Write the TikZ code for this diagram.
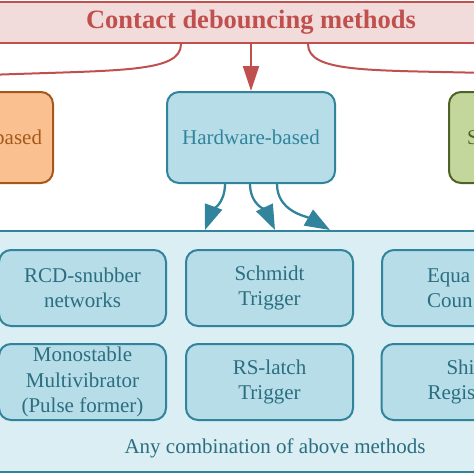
\documentclass[tikz,border=0pt]{standalone}
\usepackage{fontspec}
\setmainfont{Liberation Serif}
\usetikzlibrary{positioning,arrows.meta}
\definecolor{redline}{HTML}{C0504D}
\definecolor{redfill}{HTML}{F2DCDB}
\definecolor{blueline}{HTML}{31849B}
\definecolor{bluefill}{HTML}{B7DDE8}
\definecolor{bluepale}{HTML}{DAEEF3}
\definecolor{bluetext}{HTML}{2A6E80}
\definecolor{orline}{HTML}{A5581C}
\definecolor{orfill}{HTML}{FAC090}
\definecolor{grline}{HTML}{4F6228}
\definecolor{grfill}{HTML}{C3D69B}
\begin{document}
\begin{tikzpicture}[x=1pt,y=-1pt,node distance=187pt,on grid,
	txt/.style={font=\fontsize{21}{25.5}\selectfont},
	method/.style={txt,draw=blueline,fill=bluefill,text=bluetext,line width=2pt,rounded corners=12pt,minimum width=167pt,minimum height=76pt,inner ysep=2pt,align=center},
	kind/.style={txt,draw,line width=2pt,rounded corners=12pt,minimum width=168pt,minimum height=91pt,align=center},
	redarrow/.style={draw=redline,line width=2pt},
	bluearrow/.style={draw=blueline,line width=2.3pt,-{Triangle[length=25pt,width=18pt]}}]
		\useasboundingbox (0,0) rectangle (474,474);
		\clip (0,0) rectangle (474,474);
		\node[draw=redline,fill=redfill,line width=2pt,minimum width=540pt,minimum height=41pt,text=redline,font=\fontsize{26.5}{31}\selectfont\bfseries] (root) at (251,22.5) {Contact debouncing methods};
		\node[kind,draw=blueline,fill=bluefill,text=blueline] (hw) at (251,137.5) {Hardware-based};
		\node[kind,draw=orline,fill=orfill,text=orline,text width=146pt,inner xsep=11pt,align=right] (sw) [left=282pt of hw] {based};
		\node[kind,draw=grline,fill=grfill,text=grline,text width=132pt,inner xsep=18pt,align=left] (gr) [right=282pt of hw] {S};

		\coordinate (swIn) at (-12,75);
		\coordinate (grIn) at (486,73);
		\draw[redarrow] ([xshift=-70pt]root.south) .. controls +(0,29) and +(132,-5) .. (swIn);
		\draw[redarrow] ([xshift=57pt]root.south) .. controls +(0,29) and +(-116,-3) .. (grIn);
		\draw[redarrow,-{Triangle[length=25pt,width=16pt]}] (root) -- (hw);

		\node[draw=blueline,fill=bluepale,line width=2pt,minimum width=540pt,minimum height=241pt] (panel) at (237,351.5) {};
		\node[method] (rcd) at (82.5,288) {RCD-snubber\\networks};
		\node[method] (smt) [right=of rcd] {Schmidt\\Trigger};
		\node[method,text width=77pt,inner xsep=45pt,align=left] (eqc) [right=196pt of smt] {Equa\\Coun};
		\node[method] (mono) [below=94pt of rcd] {Monostable\\Multivibrator\\(Pulse former)};
		\node[method] (rsl) [below=94pt of smt] {RS-latch\\Trigger};
		\node[method,text width=76pt,inner xsep=46pt,align=left] (shr) [below=94pt of eqc] {\hspace*{19pt}Shi\\Regis};
		\node[txt,text=bluetext] (any) at (275,448) {Any combination of above methods};

		\draw[bluearrow] ([xshift=-26pt]hw.south) to[out=-90,in=70] ([xshift=-46pt]hw.south |- panel.north);
		\draw[bluearrow] ([xshift=-1pt]hw.south) to[out=-90,in=115] ([xshift=24pt]hw.south |- panel.north);
		\draw[bluearrow] ([xshift=26pt]hw.south) to[out=-90,in=150] ([xshift=79pt]hw.south |- panel.north);
	\end{tikzpicture}
\end{document}
